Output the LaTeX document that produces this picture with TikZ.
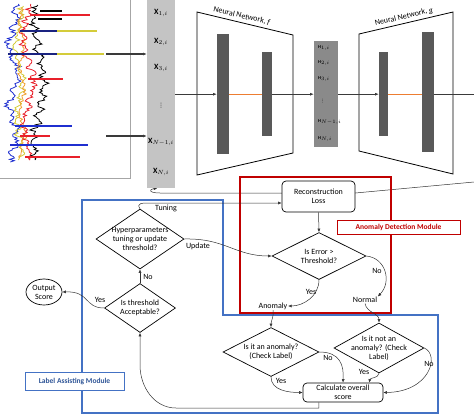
\documentclass[tikz,border=0pt]{standalone}
\usepackage{fontspec}
\setmainfont{Carlito}
\newfontfamily\djv{DejaVu Sans}
\usetikzlibrary{arrows.meta,shapes.geometric,backgrounds,calc}
\definecolor{adred}{HTML}{C00000}
\definecolor{lablue}{HTML}{4472C4}
\definecolor{labtext}{HTML}{2F5597}
\definecolor{colgray}{HTML}{C4C4C4}
\definecolor{hgray}{HTML}{8A8A8A}
\definecolor{rectgray}{HTML}{595959}
\definecolor{nnline}{HTML}{3A3A3A}
\definecolor{orangeln}{HTML}{ED7D31}
\definecolor{tsblue}{HTML}{1F2FD0}
\definecolor{tsdblue}{HTML}{1A2380}
\definecolor{tsyellow}{HTML}{D4CC3A}
\definecolor{tsred}{HTML}{E8202A}
\definecolor{tsorange}{HTML}{F0A030}
\tikzset{
  flow/.style={draw=black!80, line width=0.5pt, -{Latex[length=3.5pt,width=3pt]}},
  txt/.style={font=\fontsize{8}{9}\selectfont, align=center, inner sep=0.5pt},
  lbl/.style={font=\fontsize{8}{9}\selectfont, inner sep=0.5pt},
  dia/.style={diamond, draw=black, line width=0.7pt, inner sep=0pt},
  rbox/.style={rectangle, rounded corners=4pt, draw=black, line width=0.7pt, fill=white, align=center, font=\fontsize{8}{9}\selectfont, inner sep=1pt},
  nnarrow/.style={draw=nnline, line width=0.8pt, -{Latex[length=4pt,width=3pt]}},
  darkrect/.style={fill=rectgray, inner sep=0pt, anchor=north west},
  ts/.style={line width=0.8pt},
  spike/.style={line width=1.2pt},
  xl/.style={font=\fontsize{8}{9}\selectfont, inner sep=0pt},
  hl/.style={font=\fontsize{4.5}{5}\selectfont, inner sep=0pt, anchor=west},
  modlabel/.style={line width=1pt, fill=white, inner sep=0pt, font=\fontsize{7.5}{8.5}\selectfont\bfseries},
  trap/.style={draw=black, line width=0.8pt}
}
\begin{document}
\begin{tikzpicture}[x=1pt,y=-1pt]
\useasboundingbox (0,0) rectangle (474,416);

% ---------------- left panel (time series)
\draw[gray!70, line width=0.8pt] (0,178) -- (130,178) -- (130,0);
\pgfmathsetseed{3}
\draw[ts, tsblue] plot[domain=4:162, samples=120] ({13+4*sin(6*\x)+2.5*sin(23*\x)+3*rand}, \x);
\draw[ts, tsyellow] plot[domain=6:160, samples=110] ({19+3*sin(5*\x+40)+2*sin(29*\x)+2.5*rand}, \x);
\draw[ts, tsorange] plot[domain=8:158, samples=90] ({22+3*sin(8*\x+90)+2.5*rand}, \x);
\draw[ts, tsred] plot[domain=4:160, samples=120] ({28+5*sin(4*\x+120)+2*sin(31*\x)+3*rand}, \x);
\draw[ts, black] plot[domain=5:160, samples=120] ({39+5*sin(3*\x+200)+2.5*sin(27*\x)+3*rand}, \x);
% spikes
\draw[spike, tsred] (30,15) -- (90,15);
\draw[spike, black] (40,11) -- (62,11);
\draw[spike, black] (38,19) -- (62,19);
\draw[spike, tsdblue] (20,31) -- (57,31);
\draw[spike, tsyellow] (57,31) -- (97,31);
\draw[spike, tsdblue] (8,54) -- (57,54);
\draw[spike, tsyellow] (57,54) -- (104,54);
\draw[spike, tsred] (28,79) -- (63,79);
\draw[spike, tsblue] (15,126) -- (72,126);
\draw[spike, tsred] (20,136) -- (50,136);
\draw[spike, tsblue] (10,145) -- (88,145);
\draw[spike, tsred] (25,157) -- (80,157);

% ---------------- input column
\node[fill=colgray, inner sep=0pt, minimum width=28, minimum height=188, anchor=north west] (xcol) at (147,0) {};
\coordinate (a1) at (106,54);
\coordinate (a2) at (106,136);
\draw[nnarrow, line width=1.3pt] (a1) -- (a1 -| xcol.west);
\draw[nnarrow, line width=1.3pt] (a2) -- (a2 -| xcol.west);
\node[xl] (x1) at (161,13) {$\mathbf{X}_{1,i}$};
\node[xl] (x2) at (161,42) {$\mathbf{X}_{2,i}$};
\node[xl] (x3) at (161,68) {$\mathbf{X}_{3,i}$};
\node[xl] (xd) at (161,106) {\djv\fontsize{6}{6}\selectfont ⋮};
\node[xl] (xn1) at (161,142) {$\mathbf{X}_{N-1,i}$};
\node[xl] (xn) at (161,172) {$\mathbf{X}_{N,i}$};

% ---------------- networks
\draw[trap] (197,12) -- (293,35) -- (293,153) -- (197,175) -- cycle;
\draw[trap] (359,34) -- (453,12) -- (453,174) -- (359,151) -- cycle;
\node[lbl, rotate=-13.5] (nnf) at (242,16) {Neural Network, \textit{f}};
\node[lbl, rotate=13.5] (nng) at (404,17) {Neural Network, \textit{g}};
\node[darkrect, minimum width=12, minimum height=120] (r1) at (217,34) {};
\node[darkrect, minimum width=10, minimum height=84] (r2) at (262,52) {};
\node[fill=hgray, inner sep=0pt, anchor=north west, minimum width=24, minimum height=106] (hcol) at (314,41) {};
\node[darkrect, minimum width=9, minimum height=84] (r3) at (379,52) {};
\node[darkrect, minimum width=12, minimum height=120] (r4) at (422,32) {};
\node[hl] (h1) at (318,48) {$\mathbf{H}_{1,i}$};
\node[hl] (h2) at (318,63) {$\mathbf{H}_{2,i}$};
\node[hl] (h3) at (318,79) {$\mathbf{H}_{3,i}$};
\node[hl] (hd) at (320,101) {\djv\fontsize{4.5}{5}\selectfont ⋮};
\node[hl] (hn1) at (318,122) {$\mathbf{H}_{N-1,i}$};
\node[hl] (hn) at (318,139) {$\mathbf{H}_{N,i}$};
\draw[nnarrow] (xcol.east) -- (r1.west |- xcol.east);
\draw[orangeln, line width=1.2pt] (r1.east |- xcol.east) -- (r2.west |- xcol.east);
\draw[nnarrow] (r2.east |- xcol.east) -- (hcol.west |- xcol.east);
\draw[nnarrow] (hcol.east |- xcol.east) -- (r3.west |- xcol.east);
\draw[orangeln, line width=1.2pt] (r3.east |- xcol.east) -- (r4.west |- xcol.east);
\coordinate (nnout) at (474,94);
\draw[draw=nnline, line width=1pt] (r4.east |- nnout) -- (nnout);

% ---------------- module frames
\draw[lablue, line width=1.1pt] (82,200) -- (223,200) -- (223,315) -- (438,315) -- (438,413) -- (82,413) -- cycle;
\draw[adred, line width=1.4pt] (240,177) rectangle (391,313);
\node[modlabel, draw=adred, text=adred, minimum width=123, minimum height=14] (adm) at (398.5,227) {Anomaly Detection Module};
\node[modlabel, draw=lablue, text=labtext, minimum width=99, minimum height=18] (lam) at (74.5,381) {Label Assisting Module};

% ---------------- flowchart nodes
\node[rbox, minimum width=73, minimum height=31] (recon) at (318.5,196.5) {Reconstruction\\Loss};
\node[dia, minimum width=94, minimum height=47] (err) at (319,256) {};
\node[txt] (errt) at (err) {Is Error >\\Threshold?};
\node[txt] (anom) at (273,306) {Anomaly};
\node[txt] (norm) at (365,300) {Normal};
\node[dia, minimum width=88, minimum height=60] (hyp) at (140,239) {};
\node[txt] (hypt) at (hyp) {Hyperparameters\\tuning or update\\threshold?};
\node[dia, minimum width=71, minimum height=49] (thr) at (140,308) {};
\node[txt] (thrt) at (thr) {Is threshold\\Acceptable?};
\node[ellipse, draw=black, line width=0.7pt, minimum width=36, minimum height=26, inner sep=0pt] (out) at (44,292) {};
\node[txt] (outt) at (out) {Output\\Score};
\node[dia, minimum width=96, minimum height=49] (chk) at (271,352) {};
\node[txt] (chkt) at (chk) {Is it an anomaly?\\(Check Label)};
\node[dia, minimum width=90, minimum height=50] (nchk) at (379,348) {};
\node[txt] (nchkt) at (nchk) {Is it not an\\anomaly? (Check\\Label)};
\node[rbox, minimum width=80, minimum height=19] (calc) at (343,392.5) {Calculate overall\\score};

% ---------------- connectors
\coordinate (rin) at (474,182);
\begin{pgfonlayer}{background}
\draw[flow] (rin) -- (recon.east |- 0,193) -- (160,193) .. controls (148,193) and (149,189) .. ($(xcol.south)+(-4,0)$);
\end{pgfonlayer}
\coordinate (tun) at (150,203);
\draw[flow] (hyp.north) .. controls (136,203) and (142,203) .. (tun) -- (tun -| recon.west);
\node[lbl] (ltun) at (166,208) {Tuning};
\draw[flow] (recon.south) -- (err.north);
\draw[flow] (err.south) to[out=-90,in=0] (anom.east);
\node[lbl] (lyes1) at (311,292) {Yes};
\draw[flow] (err.east) .. controls (386,258) and (392,282) .. (norm.north east);
\node[lbl] (lno1) at (377,271) {No};
\draw[flow] (hyp.east) .. controls (225,238) and (235,256) .. (err.west);
\node[lbl] (lupd) at (198,246) {Update};
\draw[flow] (thr.north) -- (hyp.south);
\node[lbl] (lno2) at (148,277) {No};
\draw[flow] (thr.west) .. controls (84,308) and (90,291) .. (out.east);
\node[lbl] (lyes2) at (100,300) {Yes};
\draw[flow] (anom.south) to[out=-80,in=90] (chk.north);
\draw[flow] (norm.south) to[out=-80,in=90] (nchk.north);
\draw[flow] (chk.south) to[out=-90,in=180] (calc.west);
\node[lbl] (lyes3) at (281,381) {Yes};
\draw[flow] (chk.east) .. controls (340,352) and (344,365) .. (calc.north);
\node[lbl] (lno3) at (328,358) {No};
\draw[flow] (nchk.south) to[out=-100,in=80] ($(calc.north)!0.65!(calc.north east)$);
\node[lbl] (lyes4) at (364,372) {Yes};
\draw[flow] (nchk.east) .. controls (440,355) and (430,392) .. (calc.east);
\node[lbl] (lno4) at (429,364) {No};
\coordinate (cb) at ($(calc.south west)!0.2!(calc.south east)$);
\draw[flow] (cb) |- (176,408) to[out=180,in=-90] (thr.south |- 0,365) -- (thr.south);
\end{tikzpicture}
\end{document}
